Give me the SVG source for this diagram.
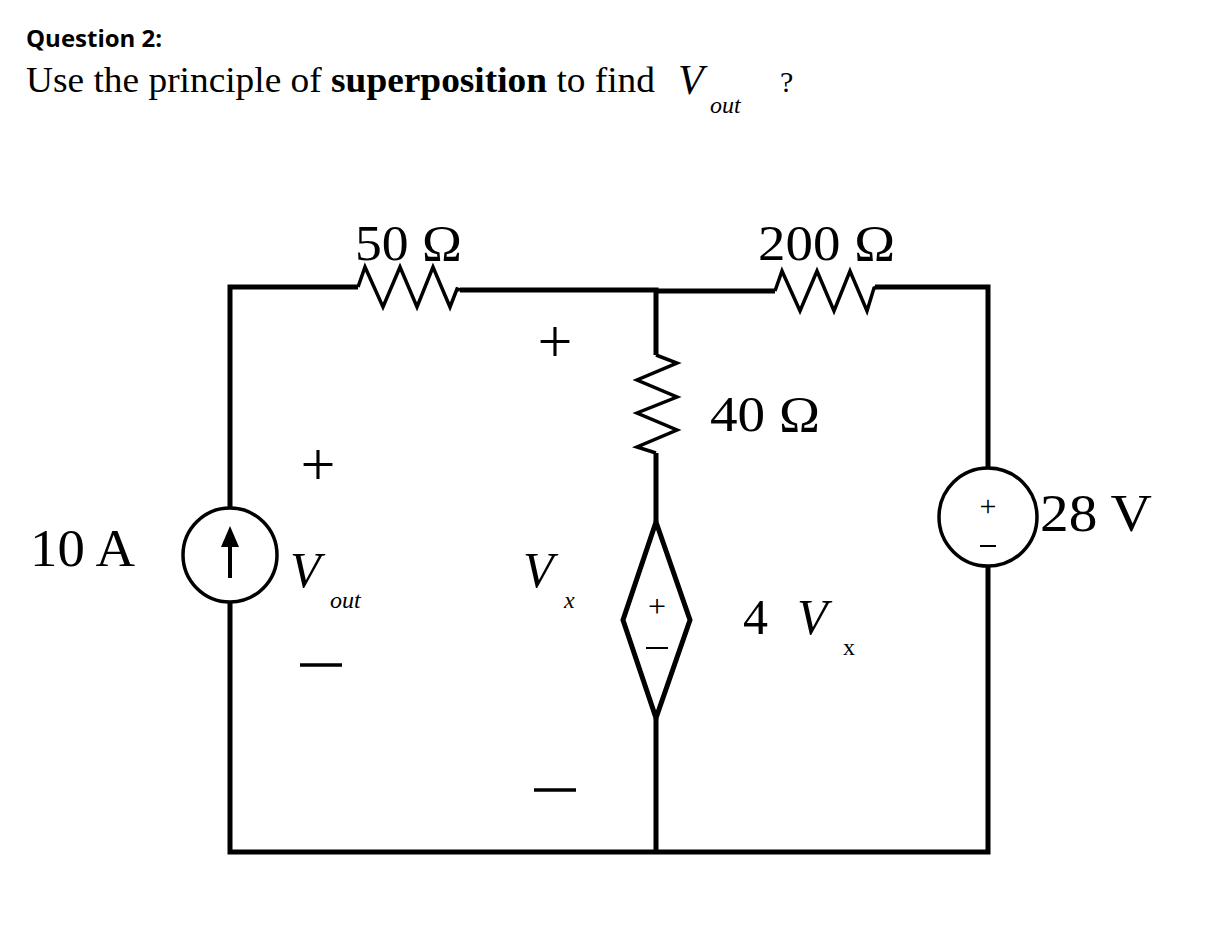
<svg xmlns="http://www.w3.org/2000/svg" width="1212" height="948" viewBox="0 0 1212 948">
<style>
.w{fill:none;stroke:#000;stroke-width:5;stroke-linejoin:miter}
.r{fill:none;stroke:#000;stroke-width:3.5}
.t{font-family:"Liberation Serif",serif;fill:#000}
.i{font-style:italic}
</style>
<rect width="1212" height="948" fill="#fff"/>
<text x="26" y="47" font-family="'Open Sans','Liberation Sans',sans-serif" font-weight="bold" font-size="24">Question 2:</text>
<text class="t" x="26" y="92" font-size="35" textLength="629" lengthAdjust="spacingAndGlyphs">Use the principle of <tspan font-weight="bold">superposition</tspan>  to find</text>
<text class="t i" x="678" y="94" font-size="42">V</text>
<text class="t i" x="710" y="113" font-size="24">out</text>
<text class="t" x="780" y="92" font-size="30">?</text>
<g id="connectors">
<path class="w" d="M230,508 V287 H358"/>
<path class="w" d="M460,290 H656 V355"/>
<path class="w" d="M656,291 H775"/>
<path class="w" d="M875,287 H988 V468"/>
<path class="w" d="M988,566 V852 H230 V602"/>
<path class="w" d="M656,453 V522"/>
<path class="w" d="M656,718 V852"/>
</g>
<g id="R50">
<polyline class="r" points="358,287 365,267 383,307 400,267 417,307 433,267 450,307 457,289 460,290"/>
<text class="t" x="355" y="260" font-size="50" textLength="107" lengthAdjust="spacingAndGlyphs">50 Ω</text>
</g>
<g id="R200">
<polyline class="r" points="775,291 782,271 800,311 817,271 834,311 850,271 867,311 874,288 877,287"/>
<text class="t" x="758" y="260" font-size="50" textLength="137" lengthAdjust="spacingAndGlyphs">200 Ω</text>
</g>
<g id="R40">
<polyline class="r" points="656,355 677,363 637,380 677,397 637,413 677,430 637,447 656,453"/>
<text class="t" x="710" y="431" font-size="50" textLength="110" lengthAdjust="spacingAndGlyphs">40 Ω</text>
</g>
<g id="I10">
<circle cx="230" cy="555" r="47" class="r"/>
<line x1="230" y1="578" x2="230" y2="540" stroke="#000" stroke-width="4"/>
<polygon points="230,526 221,547 239,547" fill="#000"/>
<text class="t" x="30" y="566" font-size="52" textLength="105" lengthAdjust="spacingAndGlyphs">10 A</text>
</g>
<g id="V28">
<circle cx="988" cy="517" r="49" class="r"/>
<text class="t" x="988" y="516" font-size="30" text-anchor="middle">+</text>
<line x1="980" y1="546" x2="996" y2="546" stroke="#000" stroke-width="2"/>
<text class="t" x="1040" y="531" font-size="52" textLength="112" lengthAdjust="spacingAndGlyphs">28 V</text>
</g>
<g id="dep">
<polygon class="w" points="656,522 690,620 656,718 623,620"/>
<text class="t" x="657" y="617" font-size="32" text-anchor="middle">+</text>
<line x1="646" y1="648" x2="668" y2="648" stroke="#000" stroke-width="2"/>
<text class="t" x="743" y="634" font-size="50">4</text>
<text class="t i" x="797" y="634" font-size="50">V</text>
<text class="t" x="843" y="655" font-size="24">x</text>
</g>
<g id="Vout">
<text class="t" x="318" y="485" font-size="62" text-anchor="middle">+</text>
<text class="t i" x="290" y="587" font-size="50">V</text>
<text class="t i" x="330" y="608" font-size="24">out</text>
<line x1="300" y1="665" x2="342" y2="665" stroke="#000" stroke-width="3.5"/>
</g>
<g id="Vx">
<text class="t" x="555" y="362" font-size="62" text-anchor="middle">+</text>
<text class="t i" x="523" y="587" font-size="50">V</text>
<text class="t i" x="564" y="608" font-size="24">x</text>
<line x1="534" y1="790" x2="576" y2="790" stroke="#000" stroke-width="3.5"/>
</g>
</svg>
